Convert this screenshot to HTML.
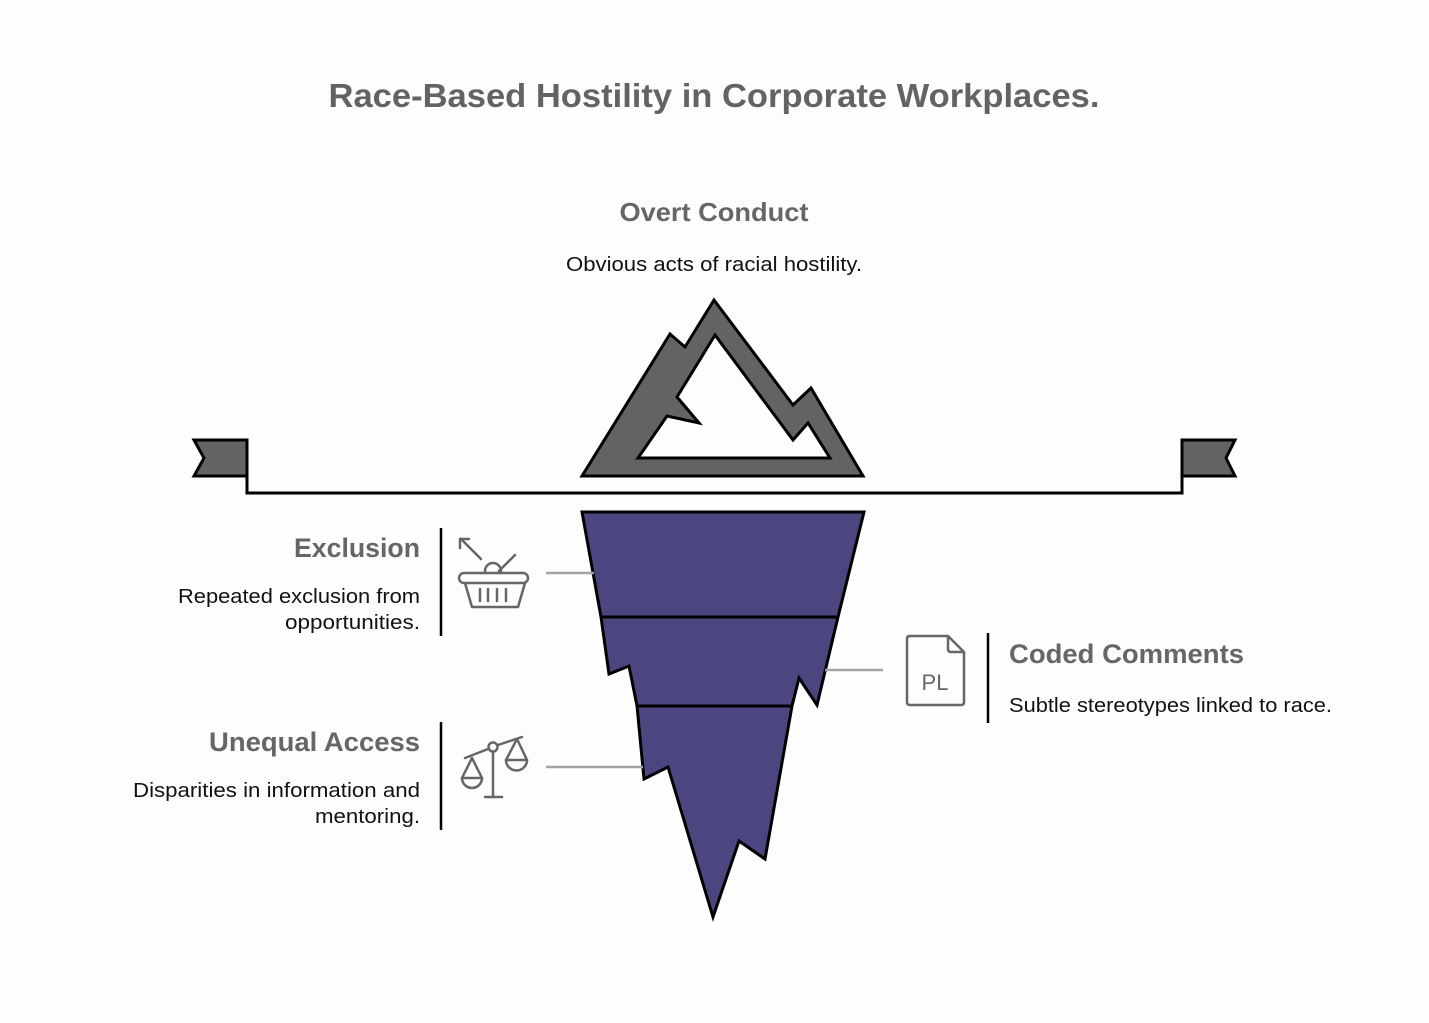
<!DOCTYPE html>
<html>
<head>
<meta charset="utf-8">
<style>
  html,body{margin:0;padding:0;background:#fdfdfd;}
  svg{display:block;}
  .t{font-family:"Liberation Sans",sans-serif;}
</style>
</head>
<body>
<svg width="1429" height="1023" viewBox="0 0 1429 1023" xmlns="http://www.w3.org/2000/svg">
  <rect width="1429" height="1023" fill="#fdfdfd"/>

  <!-- Title -->
  <text class="t" x="714" y="107" text-anchor="middle" font-size="33" font-weight="bold" fill="#636363" textLength="771" lengthAdjust="spacingAndGlyphs">Race-Based Hostility in Corporate Workplaces.</text>

  <!-- Overt Conduct -->
  <text class="t" x="714" y="221" text-anchor="middle" font-size="26" font-weight="bold" fill="#666666" textLength="189" lengthAdjust="spacingAndGlyphs">Overt Conduct</text>
  <text class="t" x="714" y="271" text-anchor="middle" font-size="20" fill="#111111" textLength="296" lengthAdjust="spacingAndGlyphs">Obvious acts of racial hostility.</text>

  <!-- Mountain (above water) -->
  <path d="M582,476 L670,334 L685,347 L714,300 L793,405 L811,388 L863,476 Z M638,458 L830,458 L808,423 L793,440 L715,335 L677,397 L699,423 L667,416 Z" fill="#636363" fill-rule="evenodd" stroke="#000" stroke-width="3" stroke-linejoin="miter"/>

  <!-- Water line with flags -->
  <polyline points="247,441 247,493 1182,493 1182,441" fill="none" stroke="#000" stroke-width="3"/>
  <polygon points="194,440 247,440 247,476 194,476 204,458" fill="#636363" stroke="#000" stroke-width="3"/>
  <polygon points="1182,440 1235,440 1226,458 1235,476 1182,476" fill="#636363" stroke="#000" stroke-width="3"/>

  <!-- Submerged iceberg -->
  <polygon points="582,512 864,512 838,617 817,705 799,678 792,706 765,859 739,841 713,917 668,767 644,779 637,706 629,666 609,674 601,617" fill="#4c4680" stroke="#000" stroke-width="3" stroke-linejoin="miter"/>
  <line x1="601" y1="617" x2="838" y2="617" stroke="#000" stroke-width="3"/>
  <line x1="636" y1="706" x2="793" y2="706" stroke="#000" stroke-width="3"/>

  <!-- Connectors -->
  <line x1="546" y1="573" x2="594" y2="573" stroke="#a3a3a3" stroke-width="2.5"/>
  <line x1="546" y1="767" x2="643" y2="767" stroke="#a3a3a3" stroke-width="2.5"/>
  <line x1="825" y1="670" x2="883" y2="670" stroke="#a3a3a3" stroke-width="2.5"/>

  <!-- Vertical separators -->
  <line x1="441" y1="528" x2="441" y2="636" stroke="#000" stroke-width="2.5"/>
  <line x1="441" y1="722" x2="441" y2="830" stroke="#000" stroke-width="2.5"/>
  <line x1="988" y1="633" x2="988" y2="723" stroke="#000" stroke-width="2.5"/>

  <!-- Exclusion text -->
  <text class="t" x="420" y="557" text-anchor="end" font-size="27" font-weight="bold" fill="#666666" textLength="126" lengthAdjust="spacingAndGlyphs">Exclusion</text>
  <text class="t" x="420" y="603" text-anchor="end" font-size="20" fill="#111111" textLength="242" lengthAdjust="spacingAndGlyphs">Repeated exclusion from</text>
  <text class="t" x="420" y="629" text-anchor="end" font-size="20" fill="#111111" textLength="135" lengthAdjust="spacingAndGlyphs">opportunities.</text>

  <!-- Unequal Access text -->
  <text class="t" x="420" y="751" text-anchor="end" font-size="27" font-weight="bold" fill="#666666" textLength="211" lengthAdjust="spacingAndGlyphs">Unequal Access</text>
  <text class="t" x="420" y="797" text-anchor="end" font-size="20" fill="#111111" textLength="287" lengthAdjust="spacingAndGlyphs">Disparities in information and</text>
  <text class="t" x="420" y="823" text-anchor="end" font-size="20" fill="#111111" textLength="105" lengthAdjust="spacingAndGlyphs">mentoring.</text>

  <!-- Coded Comments text -->
  <text class="t" x="1009" y="663" font-size="27" font-weight="bold" fill="#666666" textLength="235" lengthAdjust="spacingAndGlyphs">Coded Comments</text>
  <text class="t" x="1009" y="712" font-size="20" fill="#111111" textLength="323" lengthAdjust="spacingAndGlyphs">Subtle stereotypes linked to race.</text>

  <!-- Basket icon -->
  <g fill="none" stroke="#666" stroke-width="2.5" stroke-linecap="round" stroke-linejoin="round">
    <line x1="481" y1="559" x2="461" y2="539"/>
    <polyline points="460,548 460,539 469,539"/>
    <line x1="515" y1="555" x2="499" y2="571"/>
    <path d="M485,573 L485,571 A8,8 0 0 1 501,571 L501,573"/>
    <rect x="459" y="573" width="69" height="10" rx="5"/>
    <path d="M465,583 L472,607 L518,607 L525,583"/>
    <line x1="480" y1="589" x2="480" y2="601"/>
    <line x1="488" y1="589" x2="488" y2="601"/>
    <line x1="497" y1="589" x2="497" y2="601"/>
    <line x1="506" y1="589" x2="506" y2="601"/>
  </g>

  <!-- Scale icon -->
  <g fill="none" stroke="#666" stroke-width="2.5" stroke-linecap="round" stroke-linejoin="round">
    <line x1="465" y1="758" x2="488" y2="749"/>
    <line x1="498" y1="745" x2="522" y2="737"/>
    <circle cx="493" cy="747" r="4.5"/>
    <line x1="493" y1="752" x2="493" y2="797"/>
    <line x1="485" y1="797" x2="502" y2="797"/>
    <polyline points="462,778 472,758 482,778"/>
    <path d="M462,778 L482,778 A10,10 0 0 1 462,778 Z"/>
    <polyline points="506,760 517,739 527,760"/>
    <path d="M506,760 L527,760 A10.5,10.5 0 0 1 506,760 Z"/>
  </g>

  <!-- Document icon -->
  <g fill="none" stroke="#666" stroke-width="2.5" stroke-linejoin="round">
    <path d="M910,636 L948,636 L964,652 L964,702 Q964,705 961,705 L910,705 Q907,705 907,702 L907,639 Q907,636 910,636 Z"/>
    <path d="M948,636 L948,649 Q948,652 951,652 L964,652"/>
  </g>
  <text class="t" x="935" y="690" text-anchor="middle" font-size="22" fill="#666">PL</text>
</svg>
</body>
</html>
